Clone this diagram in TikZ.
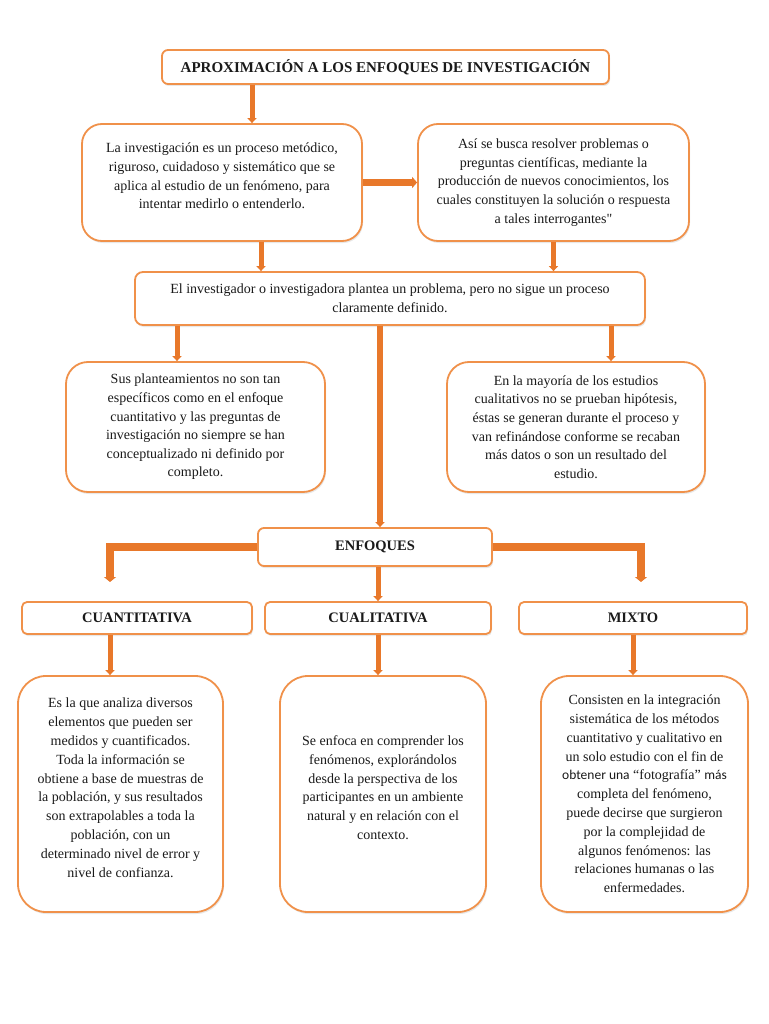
\documentclass[tikz,border=0pt]{standalone}
\usepackage{fontspec}
\setmainfont{Liberation Serif}
\newfontfamily\carl{Carlito}
\usetikzlibrary{arrows.meta,shadows,calc}
\definecolor{boxor}{HTML}{F0914A}
\definecolor{arror}{HTML}{E8782A}
\definecolor{txtc}{HTML}{1A1A1A}
\tikzset{
  box/.style={draw=boxor, line width=1.8pt, fill=white, align=flush center, text=txtc,
    drop shadow={shadow xshift=1pt, shadow yshift=-2pt, opacity=0.18}},
  big/.style={box, font=\fontsize{14}{18.6}\selectfont},
  small/.style={box, font=\fontsize{14}{18.8}\selectfont},
  head/.style={box, font=\bfseries\fontsize{14.5}{16}\selectfont},
  title/.style={box, font=\bfseries\fontsize{15}{17}\selectfont},
  plain/.style={align=flush center, text=txtc, font=\fontsize{14}{18.6}\selectfont},
  arr/.style={draw=arror, line width=5pt, -{Triangle[width=9pt,length=5pt]}},
  thick arr/.style={arr, line width=7pt, -{Triangle[width=11pt,length=5pt]}},
  branch/.style={arr, line width=8pt, -{Triangle[width=12pt,length=5pt]}},
}
\begin{document}
\begin{tikzpicture}[x=1pt,y=-1pt]
\useasboundingbox[fill=white] (0,0) rectangle (768,1024);
% title
\node[title, rounded corners=6pt, minimum width=447pt, minimum height=34pt] (T) at (385.5,67)
  {APROXIMACIÓN A LOS ENFOQUES DE INVESTIGACIÓN};
% first row
\node[big, rounded corners=20pt, minimum width=280pt, minimum height=117pt] (A) at (222,182.5) {};
\node[plain, text width=270pt] (At) at (222,176)
  {La investigación es un proceso metódico,\\ riguroso, cuidadoso y sistemático que se\\ aplica al estudio de un fenómeno, para\\ intentar medirlo o entenderlo.};
\node[big, rounded corners=20pt, minimum width=271pt, minimum height=117pt, text width=262pt] (B) at (553.5,182.5)
  {Así se busca resolver problemas o\\ preguntas científicas, mediante la\\ producción de nuevos conocimientos, los\\ cuales constituyen la solución o respuesta\\ a tales interrogantes\textquotedbl};
% second
\node[small, rounded corners=8pt, minimum width=510pt, minimum height=53pt, text width=500pt] (C) at (390,298.5)
  {El investigador o investigadora plantea un problema, pero no sigue un proceso\\ claramente definido.};
% third row
\node[big, rounded corners=22pt, minimum width=259pt, minimum height=130pt, text width=250pt] (D) at (195.5,427)
  {Sus planteamientos no son tan\\ específicos como en el enfoque\\ cuantitativo y las preguntas de\\ investigación no siempre se han\\ conceptualizado ni definido por\\ completo.};
\node[big, rounded corners=22pt, minimum width=258pt, minimum height=130pt, text width=250pt] (E) at (576,427)
  {En la mayoría de los estudios\\ cualitativos no se prueban hipótesis,\\ éstas se generan durante el proceso y\\ van refinándose conforme se recaban\\ más datos o son un resultado del\\ estudio.};
% enfoques
\node[head, rounded corners=6pt, minimum width=234pt, minimum height=38pt] (ENF) at (375,547) {ENFOQUES};
\node[head, rounded corners=5pt, minimum width=230pt, minimum height=32pt] (CUANT) at (137,618) {CUANTITATIVA};
\node[head, rounded corners=5pt, minimum width=226pt, minimum height=32pt] (CUAL) at (378,618) {CUALITATIVA};
\node[head, rounded corners=5pt, minimum width=228pt, minimum height=32pt] (MIX) at (633,618) {MIXTO};
% bottom boxes
\node[small, rounded corners=28pt, minimum width=205pt, minimum height=236pt, text width=196pt] (F) at (120.5,794)
  {Es la que analiza diversos\\ elementos que pueden ser\\ medidos y cuantificados.\\ Toda la información se\\ obtiene a base de muestras de\\ la población, y sus resultados\\ son extrapolables a toda la\\ población, con un\\ determinado nivel de error y\\ nivel de confianza.\\[-6pt]\mbox{}};
\node[small, rounded corners=28pt, minimum width=206pt, minimum height=236pt, text width=196pt] (G) at (383,794)
  {Se enfoca en comprender los\\ fenómenos, explorándolos\\ desde la perspectiva de los\\ participantes en un ambiente\\ natural y en relación con el\\ contexto.\\[-6pt]\mbox{}};
\node[small, rounded corners=28pt, minimum width=207pt, minimum height=236pt, text width=198pt] (H) at (644.5,794)
  {Consisten en la integración\\ sistemática de los métodos\\ cuantitativo y cualitativo en\\ un solo estudio con el fin de\\ {\carl\fontsize{13.5}{18.8}\selectfont obtener una} “fotografía” {\carl\fontsize{13.5}{18.8}\selectfont más}\\ completa del fenómeno,\\ puede decirse que surgieron\\ por la complejidad de\\ algunos fenómenos: las\\ relaciones humanas o las\\ enfermedades.};
% connectors
\draw[arr] ([xshift=-133.5pt]T.south) -- ([xshift=-133.5pt]T.south |- A.north);
\draw[thick arr] (A.east) -- (B.west);
\draw[arr] ([xshift=39pt]A.south) -- ([xshift=39pt]A.south |- C.north);
\draw[arr] (B.south) -- (B.south |- C.north);
\draw[arr] ([xshift=-213pt]C.south) -- ([xshift=-213pt]C.south |- D.north);
\draw[arr] ([xshift=221pt]C.south) -- ([xshift=221pt]C.south |- E.north);
\draw[arr, line width=6pt] ([xshift=-10pt]C.south) -- ([xshift=-10pt]C.south |- ENF.north);
\coordinate (lb) at (110,582);
\coordinate (rb) at (641,582);
\draw[branch] (ENF.west) -| (lb);
\draw[branch] (ENF.east) -| (rb);
\draw[arr] (ENF.south -| CUAL.north) -- (CUAL.north);
\draw[arr] ([xshift=-27pt]CUANT.south) -- ([xshift=-27pt]CUANT.south |- F.north);
\draw[arr] (CUAL.south) -- (CUAL.south |- G.north);
\draw[arr] (MIX.south) -- (MIX.south |- H.north);
\end{tikzpicture}
\end{document}
